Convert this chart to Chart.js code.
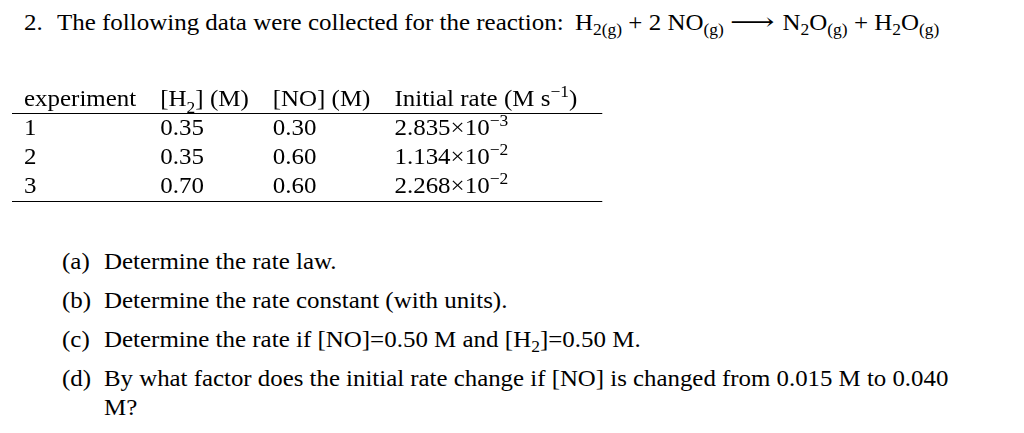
<!DOCTYPE html>
<html>
<head>
<meta charset="utf-8">
<script src="https://cdn.jsdelivr.net/npm/chart.js@4.4.1/dist/chart.umd.min.js"></script>
<style>
  html, body { margin: 0; padding: 0; background: #fff; }
  body { width: 1024px; height: 433px; position: relative; overflow: hidden; font-family: "Liberation Serif", serif; color: #000; }
  .line { position: absolute; font-size: 24px; line-height: 24px; white-space: pre; transform-origin: 0 0; transform: scaleX(1.04); }
  .sub { font-size: 0.7em; position: relative; top: 0.3em; }
  .arrow { font-family: "DejaVu Serif", serif; display: inline-block; transform-origin: 0 50%; transform: scaleX(1.24); margin: 0 16px 0 0; }
  #table-wrap { position: absolute; left: 0; top: 80px; width: 620px; height: 130px; }
</style>
</head>
<body>

<!-- problem statement -->
<div class="line" style="left:24px; top:10px;">2.</div>
<div class="line" style="left:57px; top:10px;">The following data were collected for the reaction:</div>
<div class="line" style="left:575px; top:10px;">H<span class="sub">2(g)</span> + 2 NO<span class="sub">(g)</span> <span class="arrow">⟶</span>N<span class="sub">2</span>O<span class="sub">(g)</span> + H<span class="sub">2</span>O<span class="sub">(g)</span></div>

<!-- data table (drawn by chart.js) -->
<div id="table-wrap"><canvas id="rates" width="620" height="130"></canvas></div>

<!-- questions -->
<div class="line" style="left:62px; top:249px;">(a)</div>
<div class="line" style="left:104px; top:249px;">Determine the rate law.</div>
<div class="line" style="left:62px; top:288px;">(b)</div>
<div class="line" style="left:104px; top:288px;">Determine the rate constant (with units).</div>
<div class="line" style="left:62px; top:327px;">(c)</div>
<div class="line" style="left:104px; top:327px;">Determine the rate if [NO]=0.50 M and [H<span class="sub">2</span>]=0.50 M.</div>
<div class="line" style="left:62px; top:366px;">(d)</div>
<div class="line" style="left:104px; top:366px; transform:scaleX(1.035);">By what factor does the initial rate change if [NO] is changed from 0.015 M to 0.040</div>
<div class="line" style="left:104px; top:395px;">M?</div>

<script>
/* table data */
const experiments = ['1', '2', '3'];
const h2Conc = [0.35, 0.35, 0.70];
const noConc = [0.30, 0.60, 0.60];
const initialRates = [2.835e-3, 1.134e-2, 2.268e-2];
const columnHeaders = ['experiment', '[H_2] (M)', '[NO] (M)', 'Initial rate (M s^{−1})'];
const rowKeys = ['header'].concat(experiments);

const FONT = 24;
const STRETCH = 1.04; // liberation serif is a bit narrower than computer modern
const CELL_PAD = 12;

/* 2.835e-3 -> "2.835×10^{−3}" */
function formatRate(v){
  const exp = Math.floor(Math.log10(v));
  const mant = v / Math.pow(10, exp);
  return mant.toFixed(3) + '×10^{' + (exp < 0 ? '−' : '') + Math.abs(exp) + '}';
}

/* split "a_2 b^{-1}" into normal / sub / sup pieces */
function parseRich(str){
  const segs = [];
  let buf = '';
  let i = 0;
  while(i < str.length){
    const c = str[i];
    if(c === '_' || c === '^'){
      if(buf){ segs.push({t: buf, k: 0}); buf = ''; }
      let t;
      if(str[i + 1] === '{'){
        const j = str.indexOf('}', i);
        t = str.slice(i + 2, j);
        i = j + 1;
      } else {
        t = str[i + 1];
        i += 2;
      }
      segs.push({t: t, k: c === '_' ? 1 : -1});
    } else {
      buf += c;
      i++;
    }
  }
  if(buf) segs.push({t: buf, k: 0});
  return segs;
}

function richText(ctx, str, x, y, draw){
  let w = 0;
  ctx.save();
  ctx.translate(x, y);
  ctx.scale(STRETCH, 1);
  for(const s of parseRich(str)){
    const size = s.k === 0 ? FONT : FONT * 0.7;
    const dy = s.k === 1 ? FONT * 0.3 : (s.k === -1 ? -FONT * 0.36 : 0);
    ctx.font = size + 'px "Liberation Serif", serif';
    if(draw) ctx.fillText(s.t, w, dy);
    w += ctx.measureText(s.t).width;
  }
  ctx.restore();
  return w * STRETCH;
}

const tablePlugin = {
  id: 'tableCells',
  afterDraw: function(chart){
    const ctx = chart.ctx;
    const xs = chart.scales.x;
    const ys = chart.scales.y;

    const rows = [columnHeaders].concat(experiments.map(function(e, i){
      return [e, h2Conc[i].toFixed(2), noConc[i].toFixed(2), formatRate(initialRates[i])];
    }));

    /* column widths like latex: widest cell + padding both sides */
    const widths = columnHeaders.map(function(h, c){
      return Math.max.apply(null, rows.map(function(r){ return richText(ctx, r[c], 0, 0, false); }));
    });

    const tableLeft = xs.getPixelForValue(12);
    const lefts = [];
    let x = tableLeft + CELL_PAD;
    widths.forEach(function(w){
      lefts.push(x);
      x += w + 2 * CELL_PAD;
    });
    const tableRight = x - CELL_PAD + 13;

    ctx.fillStyle = '#000';
    ctx.textBaseline = 'alphabetic';
    rows.forEach(function(r, ri){
      const y = ys.getPixelForValue(ri) + FONT * 0.36;
      r.forEach(function(cell, ci){
        richText(ctx, cell, lefts[ci], y, true);
      });
    });

    /* rules under header and under the last row */
    ctx.strokeStyle = '#000';
    ctx.lineWidth = 1.1;
    [0.55, rowKeys.length - 0.4].forEach(function(v){
      const y = Math.round(ys.getPixelForValue(v)) + 0.5;
      ctx.beginPath();
      ctx.moveTo(tableLeft, y);
      ctx.lineTo(tableRight, y);
      ctx.stroke();
    });
  },
};

const chart = new Chart(document.getElementById('rates').getContext('2d'), {
  type: 'scatter',
  data: {
    labels: rowKeys,
    datasets: [{ data: [], showLine: false }],
  },
  options: {
    responsive: false,
    animation: false,
    layout: { padding: { top: 2.5, bottom: 11.5, left: 0, right: 0 } },
    plugins: { legend: { display: false }, tooltip: { enabled: false } },
    scales: {
      x: { type: 'linear', min: 0, max: 620, display: false },
      y: { type: 'category', labels: rowKeys, offset: true, display: false },
    },
  },
  plugins: [tablePlugin],
});
</script>
</body>
</html>
